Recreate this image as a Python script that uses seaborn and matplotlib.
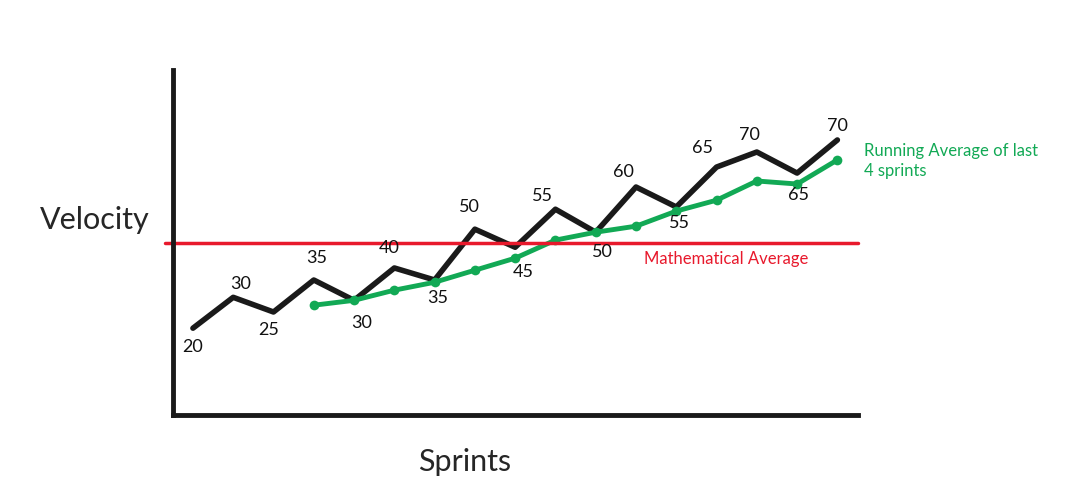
import matplotlib
matplotlib.use("Agg")
import matplotlib.pyplot as plt
import seaborn as sns
import pandas as pd

sprints = list(range(1, 18))
velocity = [20, 28.2, 24.3, 32.8, 27.4, 36, 32.8, 46.3, 41.5, 51.6, 45.5, 57.5, 52.2, 62.8, 66.8, 61.2, 70]
labels = ["20", "30", "25", "35", "30", "40", "35", "50", "45", "55", "50", "60", "55", "65", "70", "65", "70"]
avg_sprints = list(range(4, 18))
running_avg = [26.1, 27.4, 30.1, 32.2, 35.4, 38.6, 43.4, 45.5, 47.1, 51.1, 54.0, 59.1, 58.3, 64.7]
math_avg = 42.6

# label offsets in pixels (dx, dy)
offsets = [(0, -19), (7, 13), (-5, -18), (3, 22), (8, -23), (-5, 20), (3, -18), (-5, 22),
           (8, -25), (-13, 13), (7, -20), (-13, 15), (3, -16), (-14, 19), (-7, 17), (1, -22), (0, 14)]

df = pd.DataFrame({"sprint": sprints, "velocity": velocity})
da = pd.DataFrame({"sprint": avg_sprints, "avg": running_avg})

sns.set_style("white")
plt.rcParams["font.family"] = ["Lato", "DejaVu Sans"]
fig = plt.figure(figsize=(10.8, 4.96), dpi=100)
ax = fig.add_axes([0.160, 0.163, 0.634, 0.696])
GREEN = "#12a955"
RED = "#e8192c"

sns.lineplot(data=df, x="sprint", y="velocity", ax=ax, color="#1a1a1a", lw=4)
sns.lineplot(data=da, x="sprint", y="avg", ax=ax, color=GREEN, lw=3.5, marker="o",
             markersize=7, markeredgewidth=0)
ax.plot([0.3, 17.5], [math_avg, math_avg], color=RED, lw=2.5, clip_on=False)

for x, y, t, (dx, dy) in zip(sprints, velocity, labels, offsets):
    ax.annotate(t, (x, y), xytext=(dx * 0.72, dy * 0.72), textcoords="offset points",
                ha="center", va="center", fontsize=13, color="#111")

ax.text(17.65, 64.5, "Running Average of last\n4 sprints", color=GREEN, fontsize=12,
        va="center", ha="left", linespacing=1.3)
ax.text(12.2, 38.5, "Mathematical Average", color=RED, fontsize=12, va="center", ha="left")

ax.set_xlim(0.5, 17.5)
ax.set_ylim(-3.1, 88.6)
ax.set_xticks([]); ax.set_yticks([])
for s in ["top", "right"]:
    ax.spines[s].set_visible(False)
for s in ["left", "bottom"]:
    ax.spines[s].set_linewidth(3.5)
    ax.spines[s].set_color("#1a1a1a")
ax.set_xlabel("")
ax.set_ylabel("")
fig.text(95 / 1080, 1 - 220 / 496, "Velocity", fontsize=22, ha="center", va="center")
fig.text(465 / 1080, 1 - 462 / 496, "Sprints", fontsize=22, ha="center", va="center")

fig.savefig("out.png", dpi=100)
